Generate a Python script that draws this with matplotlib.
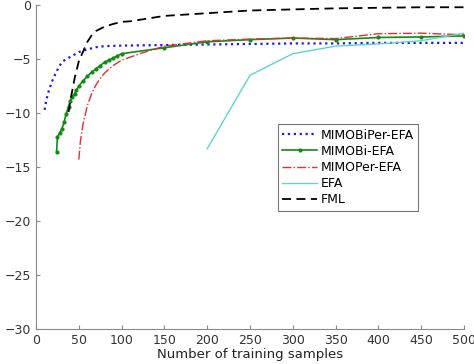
import matplotlib
matplotlib.use('Agg')
import matplotlib.pyplot as plt

# MIMOBiPer-EFA
bp_x = [10, 12, 15, 20, 25, 30, 35, 40, 50, 60, 70, 80, 100, 150, 200, 250, 300, 350, 400, 450, 500]
bp_y = [-9.7, -8.8, -7.9, -6.8, -6.0, -5.3, -5.0, -4.8, -4.35, -4.1, -3.9, -3.8, -3.75, -3.7, -3.65,
        -3.6, -3.55, -3.55, -3.5, -3.5, -3.5]

# MIMOBi-EFA
bi_x = [24, 25, 28, 30, 33, 35, 38, 40, 42, 45, 47, 50, 55, 60, 65, 70, 75, 80, 85, 90, 95, 100,
        150, 200, 250, 300, 350, 400, 450, 500]
bi_y = [-13.6, -12.2, -11.8, -11.5, -10.8, -10.1, -9.4, -8.9, -8.5, -8.2, -7.9, -7.5, -7.0, -6.6,
        -6.2, -5.9, -5.6, -5.3, -5.1, -4.9, -4.7, -4.5, -3.95, -3.4, -3.2, -3.05, -3.2, -3.0, -2.95, -2.85]

# MIMOPer-EFA
per_x = [50, 52, 55, 60, 65, 70, 75, 80, 90, 100, 125, 150, 200, 250, 300, 350, 400, 450, 500]
per_y = [-14.3, -12.5, -11.0, -9.3, -8.2, -7.4, -6.8, -6.3, -5.6, -5.1, -4.4, -3.8, -3.3, -3.15,
         -3.05, -3.1, -2.65, -2.6, -2.75]

# EFA
efa_x = [200, 250, 300, 350, 400, 450, 500]
efa_y = [-13.3, -6.5, -4.5, -3.8, -3.6, -3.3, -2.6]

# FML
fml_x = [38, 40, 45, 50, 55, 60, 65, 70, 80, 90, 100, 110, 130, 150, 200, 250, 300, 350, 400, 450, 500]
fml_y = [-9.9, -8.9, -6.8, -5.2, -4.3, -3.4, -2.8, -2.4, -2.0, -1.75, -1.55, -1.5, -1.25, -1.0,
         -0.75, -0.5, -0.4, -0.3, -0.25, -0.2, -0.2]

labels = ['MIMOBiPer-EFA', 'MIMOBi-EFA', 'MIMOPer-EFA', 'EFA', 'FML']

fig = plt.figure(figsize=(4.74, 3.64), dpi=100)
ax = fig.add_axes([0.076, 0.096, 0.903, 0.89])

ax.plot(bp_x, bp_y, ':', color='#1a1aff', lw=1.6, label=labels[0])
ax.plot(bi_x, bi_y, '-', color='#138a13', lw=1.2, marker='.', ms=4, label=labels[1])
ax.plot(per_x, per_y, '-.', color='#e03030', lw=1.0, label=labels[2])
ax.plot(efa_x, efa_y, '-', color='#5fd3d3', lw=1.0, label=labels[3])
ax.plot(fml_x, fml_y, '--', color='black', lw=1.3, dashes=(5, 3), label=labels[4])

ax.set_xlim(0, 500)
ax.set_ylim(-30, 0)
ax.set_xticks(range(0, 501, 50))
ax.set_yticks(range(-30, 1, 5))
for s in ['top', 'right']:
    ax.spines[s].set_visible(False)
for s in ['left', 'bottom']:
    ax.spines[s].set_color('#8a8a8a')
ax.tick_params(direction='in', length=3, color='#8a8a8a', labelsize=9, labelcolor='#333333')
ax.set_xlabel('Number of training samples', fontsize=9.5, color='#222222', labelpad=1)
ax.set_ylabel('SCNR loss (dB)', fontsize=9.5, color='#222222', labelpad=2)

leg = ax.legend(loc='upper left', bbox_to_anchor=(0.565, 0.632), borderaxespad=0, fontsize=9,
                frameon=True, fancybox=False, edgecolor='#555555', handlelength=2.8,
                borderpad=0.35, labelspacing=0.25, handletextpad=0.3)
leg.get_frame().set_linewidth(0.8)

fig.savefig('out.png', dpi=100)
